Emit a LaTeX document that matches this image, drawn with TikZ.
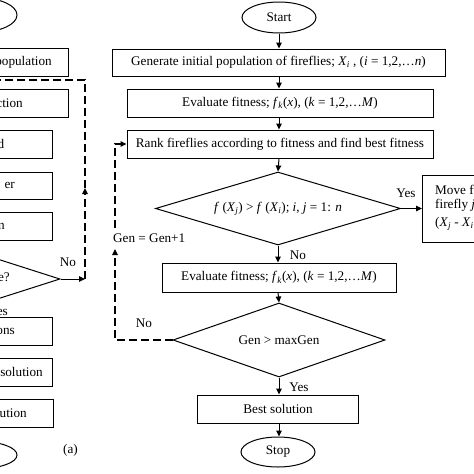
\documentclass[tikz,border=0pt]{standalone}
\usepackage{fontspec}
\setmainfont{Liberation Serif}
\usetikzlibrary{shapes.geometric,arrows.meta}
\newcommand\vit[1]{\textit{#1}}
\newcommand\vsub[1]{\textsubscript{\textit{#1}}}
\begin{document}
\begin{tikzpicture}[x=1pt,y=-1pt,
  every node/.style={font=\fontsize{13.2}{15}\selectfont},
  box/.style={draw,line width=1pt,rectangle,inner sep=0pt},
  dec/.style={draw,line width=1pt,diamond,inner sep=0pt},
  term/.style={draw,line width=1pt,ellipse,inner sep=0pt},
  arr/.style={line width=1pt,-{Triangle[length=6pt,width=5.5pt]}},
  dsh/.style={line width=1.1pt,dash pattern=on 8pt off 4pt},
  lbl/.style={inner sep=0pt}
]
\useasboundingbox (0,0) rectangle (474,474);
\clip (0,0) rectangle (474,474);

% ---------- right flowchart (b) ----------
\node[term,minimum width=74pt,minimum height=31pt] (start) at (279,17.5) {Start};
\node[box,minimum width=333pt,minimum height=27pt] (gen) at (278.5,62.5)
  {Generate initial population of fireflies; \vit{X}\vsub{i} , (\vit{i} = 1,2,…\vit{n})};
\node[box,minimum width=306pt,minimum height=28pt] (ev1) at (280,103)
  {Evaluate fitness; \vit{f}\vsub{k}(\vit{x}), (\vit{k} = 1,2,…\vit{M})};
\node[box,minimum width=306pt,minimum height=28pt] (rank) at (280,144)
  {Rank fireflies according to fitness and find best fitness};
\node[dec,minimum width=245pt,minimum height=73pt,aspect=3.3] (d1) at (278,208.5)
  {\vit{f} (\vit{X}\vsub{j}) > \vit{f} (\vit{X}\vsub{i}); \vit{i}, \vit{j} = 1: \vit{n}};
\node[box,minimum width=120pt,minimum height=67pt,anchor=north west] (move) at (422,175) {};
\node[lbl,anchor=west] (m1) at (435,190) {Move f};
\node[lbl,anchor=west] (m2) at (435,205) {firefly \vit{j}};
\node[lbl,anchor=west] (m3) at (435,224) {(\vit{X}\vsub{j} - \vit{X}\vsub{i}};
\node[box,minimum width=234pt,minimum height=29pt] (ev2) at (279,277.5)
  {Evaluate fitness; \vit{f}\vsub{k}(\vit{x}), (\vit{k} = 1,2,…\vit{M})};
\node[dec,minimum width=212pt,minimum height=74pt,aspect=2.9] (d2) at (279,340) {Gen > maxGen};
\node[box,minimum width=161pt,minimum height=28pt] (best) at (278,409) {Best solution};
\node[term,minimum width=74pt,minimum height=30pt] (stop) at (278,452) {Stop};

\draw[arr] (start.south) -- (start.south |- gen.north);
\draw[arr] (start.south |- gen.south) -- (start.south |- ev1.north);
\draw[arr] (start.south |- ev1.south) -- (start.south |- rank.north);
\draw[arr] (start.south |- rank.south) -- (d1.north);
\draw[arr] (d1.east) -- (d1.east -| move.west);
\draw[arr] (d1.south) -- (d1.south |- ev2.north);
\draw[arr] (d1.south |- ev2.south) -- (d2.north);
\draw[arr] (d2.south) -- (d2.south |- best.north);
\draw[arr] (d2.south |- best.south) -- (d2.south |- stop.north);

\node[lbl] (yes1) at (406,193) {Yes};
\node[lbl] (no1) at (298,255) {No};
\node[lbl] (yes2) at (299,387) {Yes};
\node[lbl] (no2) at (144,323) {No};

\coordinate (c1) at (115,340);
\coordinate (c2) at (115,249);
\coordinate (c3) at (115,228);
\coordinate (c4) at (115,144);
\draw[dsh,-{Triangle[length=6pt,width=5.5pt]}] (d2.west) -- (c1) -- (c2);
\node[lbl,anchor=west] (inc) at (113,238) {Gen = Gen+1};
\draw[dsh,-{Triangle[length=6pt,width=5.5pt]}] (c3) -- (c4) -- (rank.west);

% ---------- left flowchart (a), cut off ----------
\node[term,minimum width=74pt,minimum height=34pt] (lstart) at (-20,15) {};
\node[box,minimum width=220pt,minimum height=28pt,anchor=east] (lpop) at (69,62) {};
\node[lbl,anchor=east] (tpop) at (52,62) {population};
\node[box,minimum width=220pt,minimum height=28pt,anchor=east] (lsel) at (69,103) {};
\node[lbl,anchor=east] (tsel) at (23,103) {ction};
\node[box,minimum width=220pt,minimum height=28pt,anchor=east] (ld) at (53,144) {};
\node[lbl,anchor=east] (td) at (4.5,144) {d};
\node[box,minimum width=220pt,minimum height=27pt,anchor=east] (ler) at (53,185.5) {};
\node[lbl,anchor=east] (ter) at (15,185.5) {er};
\node[box,minimum width=220pt,minimum height=28pt,anchor=east] (ln) at (53,226) {};
\node[lbl,anchor=east] (tn) at (5,226) {n};
\node[dec,minimum width=168pt,minimum height=54pt,aspect=3.1] (ldia) at (-24,279) {};
\node[lbl,anchor=east] (tdia) at (10,277) {e?};
\node[lbl,anchor=east] (tyes) at (8,312) {es};
\node[box,minimum width=220pt,minimum height=28pt,anchor=east] (lons) at (53,331) {};
\node[lbl,anchor=east] (tons) at (15,331) {ons};
\node[box,minimum width=220pt,minimum height=28pt,anchor=east] (lsol) at (53,372) {};
\node[lbl,anchor=east] (tsol) at (43,372) {solution};
\node[box,minimum width=220pt,minimum height=28pt,anchor=east] (lout) at (54,413) {};
\node[lbl,anchor=east] (tout) at (27,413) {ution};
\node[term,minimum width=74pt,minimum height=27pt] (lstop) at (-20,455) {};
\node[lbl] (ta) at (70.5,450) {(a)};
\node[lbl] (tno) at (68,262) {No};

\coordinate (lc1) at (85,279);
\coordinate (lc2) at (85,188);
\coordinate (lc3) at (85,80);
\coordinate (lc4) at (-10,80);
\draw[arr] (ldia.east) -- (lc1);
\draw[dsh,-{Triangle[length=6pt,width=5.5pt]}] (lc1) -- (lc2);
\draw[dsh] (lc2) -- (lc3) -- (lc4);
\end{tikzpicture}
\end{document}
